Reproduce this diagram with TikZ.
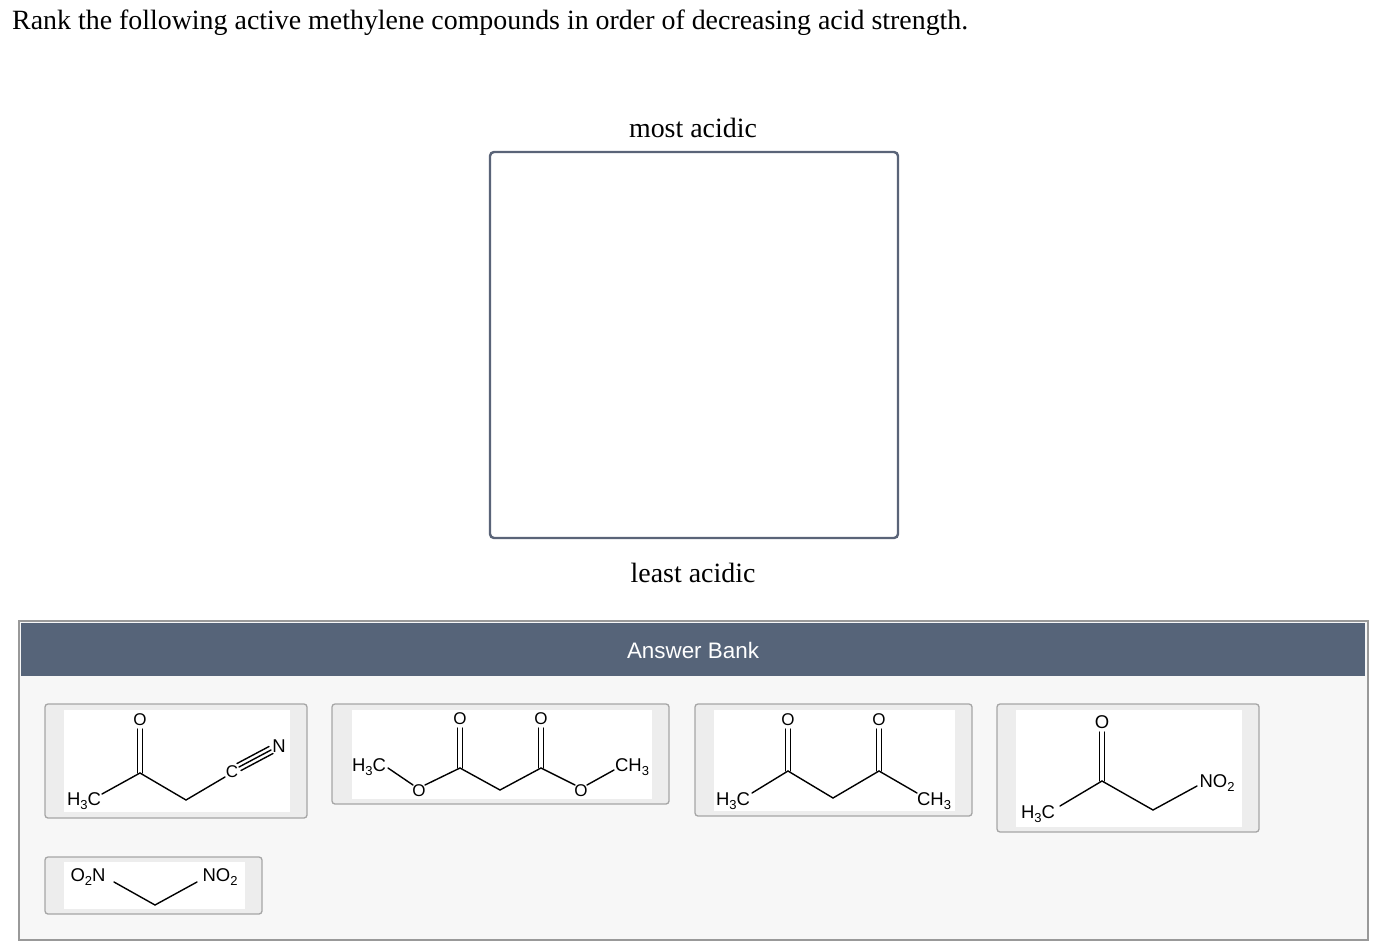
\documentclass[tikz,border=0pt]{standalone}
\usepackage{fontspec}
\setmainfont{Liberation Serif}
\newfontfamily\hel{Liberation Sans}
\newcommand{\sbs}[1]{\raisebox{-4pt}{\fontsize{13}{13}\selectfont #1}}
\begin{document}
\begin{tikzpicture}[x=1pt,y=-1pt,
  card/.style={draw=black!35,line width=1.3pt,rounded corners=3pt,fill=black!7},
  inner/.style={fill=white,draw=none},
  bond/.style={line width=1.4pt,line cap=round},
  lab/.style={font=\hel\fontsize{18.5}{18}\selectfont,inner sep=0pt},
  olab/.style={font=\hel\fontsize{17}{17}\selectfont,inner sep=0pt}]
\useasboundingbox (0,0) rectangle (1374,942);
\fill[white] (0,0) rectangle (1374,942);
\node[anchor=base west,inner sep=0pt,font=\fontsize{27.9}{28}\selectfont] (title) at (12,30) {Rank the following active methylene compounds in order of decreasing acid strength.};
\node[anchor=base,inner sep=0pt,font=\fontsize{27.9}{28}\selectfont] (most) at (693,137) {most acidic};
\node[anchor=base,inner sep=0pt,font=\fontsize{27.9}{28}\selectfont] (least) at (693,582) {least acidic};
\draw[draw={rgb,255:red,90;green,100;blue,120},line width=2.4pt,rounded corners=4pt] (490,152) rectangle (898,538);
% answer bank
\draw[draw=black!40,fill=black!3,line width=2pt] (19,621) rectangle (1368,940);
\fill[fill={rgb,255:red,86;green,100;blue,121}] (21,623) rectangle (1365,676);
\node[font=\hel\fontsize{22.4}{22}\selectfont,text=white] (ab) at (693,650) {Answer Bank};
% cards
\draw[card] (45,704) rectangle (307,818); \fill[inner] (64,710) rectangle (290,812);
\draw[card] (332,704) rectangle (669,804); \fill[inner] (352,710) rectangle (652,799);
\draw[card] (695,704) rectangle (972,816); \fill[inner] (714,710) rectangle (955,811);
\draw[card] (997,704) rectangle (1259,832); \fill[inner] (1016,710) rectangle (1242,827);
\draw[card] (45,857) rectangle (262,914); \fill[inner] (64,862) rectangle (245,909);
% molecule 1
\node[lab] (m1a) at (84,801) {H\sbs{3}C};
\node[olab] (m1o) at (140,720) {O};
\coordinate (m1c) at (140,773);
\coordinate (m1m) at (186,800);
\node[olab] (m1n) at (232,772) {C};
\node[lab] (m1nn) at (279,746) {N};
\draw[bond] (102,794) -- (m1c) -- (m1m) -- (225,777);
\draw[bond] ([xshift=-2.5]m1c) -- (137.5,729); \draw[bond] ([xshift=2.5]m1c) -- (142.5,729);
\draw[bond] (239,767) -- (271,750);
\draw[bond] (237,763.5) -- (269,746.5);
\draw[bond] (241,770.5) -- (273,753.5);
% molecule 2
\node[lab] (m2a) at (369,767) {H\sbs{3}C};
\node[olab] (m2o1) at (419,791) {O};
\coordinate (m2c1) at (460,768);
\node[olab] (m2oa) at (460,719) {O};
\coordinate (m2m) at (500,790);
\coordinate (m2c2) at (541,768);
\node[olab] (m2ob) at (541,719) {O};
\node[olab] (m2o2) at (581,791) {O};
\node[lab] (m2b) at (632,767) {CH\sbs{3}};
\draw[bond] (388,768) -- (413,785);
\draw[bond] (425,785) -- (m2c1) -- (m2m) -- (m2c2) -- (575,785);
\draw[bond] (587,785) -- (614,770);
\draw[bond] ([xshift=-2.5]m2c1) -- (457.5,728); \draw[bond] ([xshift=2.5]m2c1) -- (462.5,728);
\draw[bond] ([xshift=-2.5]m2c2) -- (538.5,728); \draw[bond] ([xshift=2.5]m2c2) -- (543.5,728);
% molecule 3
\node[lab] (m3a) at (733,801) {H\sbs{3}C};
\coordinate (m3c1) at (788,771);
\node[olab] (m3o1) at (788,720) {O};
\coordinate (m3m) at (833,798);
\coordinate (m3c2) at (879,771);
\node[olab] (m3o2) at (879,720) {O};
\node[lab] (m3b) at (934,801) {CH\sbs{3}};
\draw[bond] (752,793) -- (m3c1) -- (m3m) -- (m3c2) -- (917,793);
\draw[bond] ([xshift=-2.5]m3c1) -- (785.5,729); \draw[bond] ([xshift=2.5]m3c1) -- (790.5,729);
\draw[bond] ([xshift=-2.5]m3c2) -- (876.5,729); \draw[bond] ([xshift=2.5]m3c2) -- (881.5,729);
% molecule 4
\node[lab] (m4a) at (1038,814) {H\sbs{3}C};
\coordinate (m4c) at (1102,781);
\node[lab] (m4o) at (1102,722) {O};
\coordinate (m4m) at (1153,810);
\node[lab] (m4b) at (1217,783) {NO\sbs{2}};
\draw[bond] (1060,806) -- (m4c) -- (m4m) -- (1197,786);
\draw[bond] ([xshift=-2.5]m4c) -- (1099.5,732); \draw[bond] ([xshift=2.5]m4c) -- (1104.5,732);
% molecule 5
\node[lab] (m5a) at (88,877) {O\sbs{2}N};
\coordinate (m5m) at (155,905);
\node[lab] (m5b) at (220,877) {NO\sbs{2}};
\draw[bond] (114,882) -- (m5m) -- (197,882);
\end{tikzpicture}
\end{document}
